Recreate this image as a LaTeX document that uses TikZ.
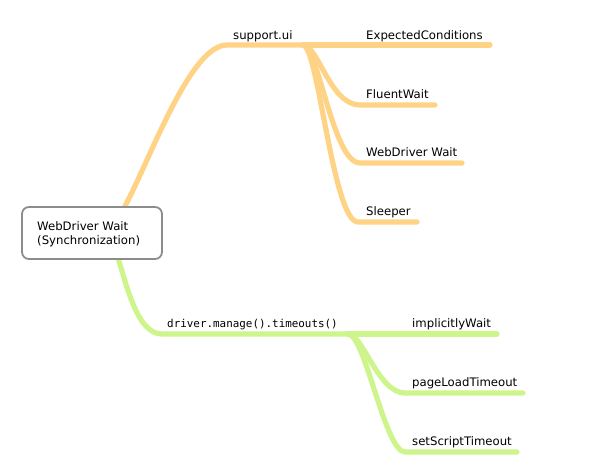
\documentclass[tikz,border=0pt]{standalone}
\usepackage{fontspec}
\setmainfont{DejaVu Sans}
\setmonofont{DejaVu Sans Mono}
\definecolor{orangeb}{HTML}{FFD386}
\definecolor{greenb}{HTML}{CEF58C}
\definecolor{boxgray}{HTML}{8C8C8C}
\begin{document}
\begin{tikzpicture}[x=1pt,y=-1pt,
  obranch/.style={draw=orangeb,line width=5.2pt,line cap=round},
  gbranch/.style={draw=greenb,line width=5.2pt,line cap=round},
  lbl/.style={anchor=base west,inner sep=0pt,font=\fontsize{11.7}{13}\selectfont},
  mlbl/.style={anchor=base west,inner sep=0pt,font=\ttfamily\fontsize{10.9}{13}\selectfont},
  rootbox/.style={draw=boxgray,line width=1.8pt,rounded corners=7pt,fill=white,minimum width=140pt,minimum height=52pt,inner sep=0pt}]
\useasboundingbox (0,0) rectangle (590,470);
% coordinates
\coordinate (rtop) at (125,206);
\coordinate (rbot) at (118,258);
\coordinate (ui) at (227,45);
\coordinate (uihub) at (303,45);
\coordinate (ec) at (490,45);
\coordinate (fw0) at (360,105);
\coordinate (fw) at (435,105);
\coordinate (ww0) at (360,163);
\coordinate (ww) at (462,163);
\coordinate (sl0) at (358,222);
\coordinate (sl) at (417,222);
\coordinate (dm) at (162,334);
\coordinate (dmhub) at (348,334);
\coordinate (iw) at (497,334);
\coordinate (pl0) at (405,393);
\coordinate (pl) at (523,393);
\coordinate (ss0) at (405,452);
\coordinate (ss) at (517,452);
% orange branches
\draw[obranch] (rtop) .. controls (150,160) and (190,45) .. (ui) -- (uihub);
\draw[obranch] (uihub) -- (ec);
\draw[obranch] (uihub) .. controls (318,45) and (330,105) .. (fw0) -- (fw);
\draw[obranch] (uihub) .. controls (318,45) and (333,163) .. (ww0) -- (ww);
\draw[obranch] (uihub) .. controls (318,45) and (333,222) .. (sl0) -- (sl);
% green branches
\draw[gbranch] (rbot) .. controls (128,290) and (138,334) .. (dm) -- (dmhub);
\draw[gbranch] (dmhub) -- (iw);
\draw[gbranch] (dmhub) .. controls (363,334) and (378,393) .. (pl0) -- (pl);
\draw[gbranch] (dmhub) .. controls (365,334) and (385,452) .. (ss0) -- (ss);
% root
\node[rootbox] (root) at (92,233) {};
\node[lbl] (rt1) at (37,231) {WebDriver Wait};
\node[lbl] (rt2) at (37,245) {(Synchronization)};
% labels
\node[lbl] (lui) at (233,40) {support.ui};
\node[lbl] (lec) at (366,40) {ExpectedConditions};
\node[lbl] (lfw) at (366,99) {FluentWait};
\node[lbl] (lww) at (366,157) {WebDriver Wait};
\node[lbl] (lsl) at (366,216) {Sleeper};
\node[mlbl] (ldm) at (167,328) {driver.manage().timeouts()};
\node[lbl] (liw) at (412,328) {implicitlyWait};
\node[lbl] (lpl) at (412,387) {pageLoadTimeout};
\node[lbl] (lss) at (412,446) {setScriptTimeout};
\end{tikzpicture}
\end{document}
